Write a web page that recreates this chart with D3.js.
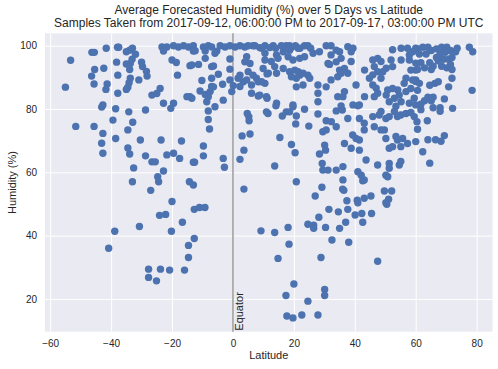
<!DOCTYPE html>
<html><head><meta charset="utf-8">
<script src="https://cdn.jsdelivr.net/npm/d3@7"></script>
<style>body{margin:0;background:#fff}svg{display:block}text{font-family:"Liberation Sans",Arial,sans-serif;fill:#262626}</style>
</head><body><svg id="c" width="498" height="369"></svg>
<script>
// [latitude, humidity %]
const southernCities = [
[-53.3,95.4],[-55,86.9],[-51.6,74.5],[-46.3,97.9],[-45.5,97.9],[-41.6,99.2],[-45.4,92.5],[-42.4,92.9],[-46.4,90.4],[-45.6,87.9],[-41.3,87.9],[-41.7,86.2],[-45.6,74.5],[-43.1,80.6],[-42.7,81.3],[-42.7,72.3],[-43.1,69.2],[-42.7,66],[-37.9,99.5],[-37.5,99.5],[-38.2,94.8],[-37.8,90.7],[-37.8,85],[-38.5,80.1],[-39.4,76.5],[-38.5,70.7],[-35,98.1],[-33.9,98.6],[-33,99.2],[-32,97.3],[-35,94.2],[-33.7,94.4],[-33.1,95.7],[-33.9,92.5],[-30,94.8],[-29.7,93.4],[-28.4,91.9],[-28.2,90.4],[-30.9,89.2],[-33.7,89.7],[-34.1,88.3],[-35,86.2],[-34.5,86.9],[-34.2,79.1],[-32.9,75.8],[-34.5,73.4],[-30.4,70.2],[-34.5,67.7],[-33.9,65.8],[-32.6,61.4],[-33,57],[-28.7,79.7],[-28.7,65.2],
[-26.6,63.3],[-25.5,63.3],[-23.6,70.2],[-22.8,60.4],[-24.7,58.6],[-24.4,57],[-21.7,65.5],[-19.5,66],[-20.4,80.2],[-17.5,64.4],[-16.9,69.9],[-13,63.2],
[-27,54.3],[-20,50.8],[-24.1,46.4],[-22.1,46.7],[-30.7,42.9],[-38.8,41.4],[-20.2,41.4],[-16.6,44.2],[-40.8,36],[-14.6,36.9],[-14.6,33.1],[-27.7,29.4],[-27.7,26.8],[-23.8,29.4],[-20.8,29.1],[-25.1,25.7],[-15.9,29.1],[-12.7,48.3],[-12.7,39.1],[-14.3,57],[-13,56],[-11,48.9],[-9.2,48.9],
[-23.3,99.6],[-21.7,99.6],[-19.5,100],[-17.9,99.6],[-16.2,100],[-14.6,99.6],[-13,100],[-22.8,98.3],[-13,98.3],[-12.4,98.4],
[-20,95.5],[-18.6,94.7],[-14.1,93.7],[-11.3,94.1],[-13.5,93.9],[-18.2,90.7],[-10.2,89],[-10.8,85.7],[-14.1,83.9],[-15.1,83.9],[-13.5,83.4],[-22.8,81.8],[-19.5,81.8],[-23.9,86.5],[-25,84.9],[-26.6,84.4]
];
const tropicalCities = [
[-9.7,99.6],[-8.1,100],[-7,99.6],[-4.2,100],[-2.6,99.6],[-1,100],[0.7,99.6],[2.3,100],[3.9,99.6],[-9.1,98.3],[-5.3,98.3],
[-9.1,96],[-5.9,97.6],[-1,95.8],[-1,92.6],[-7,93.4],[-6.4,93.6],[-4.8,91],[-7,89.7],[-1,89.2],[1.7,89.7],[2.3,90.7],[3.4,88.6],[4.5,89.2],[-3.4,87.8],[0.1,87.4],[2.3,87.1],[-9.1,84.6],[-7.5,85.5],[-7,87.1],[-6.4,87],[-8.1,83.9],[-8.6,82.3],[-0.4,85.5],[-3.2,82.8],[3.9,94.9],[4.5,96.5],[5,91.8],
[6.6,100],[8.8,99.4],[10.5,100],[12.1,99.4],[15.9,100],[17.5,100],[19.2,99.4],[21.4,99.2],[23.5,100],[5,100],[7.2,100],[9.4,99.2],[13.2,100],[14,99.2],[18.6,100],[20.5,100],[22,99.2],[24.6,100],
[10.5,97.6],[14.3,97.1],[16.5,98.1],[18.6,98.6],[18.1,96.5],[21.9,96],[23.5,96.5],[10.5,95.5],[14.8,96],[12.6,95],[5.6,94.4],[9.9,92.8],[13.7,93.4],[16.5,92.8],[11.6,91.3],[14.3,91.3],[6.6,90.7],[7.7,89.7],[8.3,88.6],[10.5,88.1],[6.1,87.6],[18.6,91.8],[20.3,92.3],[21.4,91.8],[21.9,90.7],[23,91.3],[24.6,90.7],[20.8,89.7],[19.2,90.2],[20.8,87],[23,87.6],[8.8,84.4],[11,83.9],[6.1,85],[14.3,81.8],[19.7,81.3],[11.2,91.1],[9.4,88.6],[19.7,95.5],[8.3,84.1],[11.2,83.4],
[-8.1,79.4],[-5.9,80.7],[-8.1,76.7],[-7.7,73.7],[-9.7,68.3],[-9.7,65.2],[-12.6,63.2],[-3.2,64.4],[-2.8,61.6],[2.3,64.1],[3.6,67],[3,71.5],[5.6,72.1],[4.7,78.6],[5.2,77.6],[5.3,76.3],[11.5,78.6],[11,79.1],[14.1,81],[16.2,77.8],[17.5,79.1],[18.6,79.1],[19.7,80.7],[20.8,77.8],[20.6,75.3],[23.5,79.9],[24.9,74.6],[15.4,71],[19.2,68.8],[20.4,66.2],[13.7,62],[20.8,57],
[3.6,54.7],[9.2,41.5],[13.7,41],[18.1,42.6],[18.4,37.3],[14.8,32.8],[24.6,43.6],[20,24.7],[17.4,21.1],[24.6,19.3],[17.7,14.6],[19.7,14],[22.6,14.9]
];
const northernCities = [
[25.5,99.2],[26.3,97.6],[28.4,98.1],[30.6,100],[32.2,100],[33.9,98.6],[35,98.1],[32.2,97.1],[35.5,96],[31.7,94.1],[31.2,94.4],[33.9,94.9],[35,92.3],[36.6,92.8],[25.2,89.7],[27.9,87.6],[30.6,87],[32.2,89.2],[34.4,90.2],[35.5,91.3],[27.9,85],[27.9,82.3],[34.4,83.9],
[27.9,78.4],[33.9,79.4],[35.9,79.7],[30.6,76.3],[32.3,76],[33.9,74.4],[29.5,72.8],[30.6,73.4],[30.1,68.6],[30.4,67],[28.4,65.8],[29.3,62.8],[29.5,60.7],[31.2,60.7],[33.9,60.7],
[27,52.5],[29.2,55.3],[28.2,45.8],[31.5,48.3],[34.6,47.5],[26.5,43.3],[26.5,42.3],[30.4,42.6],[35,42.3],[32.5,38.6],[28.9,33.1],[36,54.7],[30.1,23],[30.1,21.1],[27.9,14.9],
[42.6,57.3],[36.4,54.3],[37.4,51],[37.7,48.3],[40.8,51.2],[41,50.4],[43.1,51.8],[45.3,52.5],[49.7,54.1],[52.1,54.1],[50.2,50.4],[51.1,51.5],[50.5,49.9],[40.1,46.5],[42.3,47],[45.5,47],[37,44.2],[42.6,44.2],[38,37.9],[47.5,31.9],
[37.7,99.7],[39.4,99.2],[38.8,98.1],[38.8,95],[35.5,91.8],[37.7,91.3],[40.4,87.6],[36.6,85.5],[36.1,83.9],[43.2,83.9],[41.5,81.3],[39.4,81.3],[43.2,92.3],[45.9,95.5],[47.5,96],[48.6,95],[46.4,93.4],[45.9,90.8],[47.5,91.8],[49.2,91.8],[50.3,92.9],[52.4,93.4],[51.9,95.5],[55.2,95.5],[52.4,98.7],[55.2,99.2],[57.3,99.2],[59,98.1],[57.9,97.1],[60,99.2],[57.9,95.5],[60,94.5],[58.4,92.3],[60,92.3],[56.8,89.7],[59,89.2],[60,88.7],[56.2,88.1],[54.1,86],[52.4,86.5],[50.8,86],[50.3,84.4],[48.6,89.7],[44.8,89.7],[45.9,87.6],[47,86.6],[47.5,85],[46.4,83.9],[51.3,82.3],[53,83.4],[54.6,84.4],[56.8,85.5],[58.4,86.5],[59.5,83.4],[57.9,81.8],[60,81.3],[55.2,82.3],
[60.6,99],[62.3,99.5],[64,99.5],[65.1,98.5],[61.2,97.4],[63.4,97.4],[66.8,99],[68.5,99.5],[70.2,99.5],[71.4,98.5],[69.7,97.9],[68,97.4],[66.8,96.3],[69.1,95.7],[70.8,95.7],[71.9,96.3],[71.4,94.1],[70.2,93],[71.9,92.5],[68.5,93.5],[67.4,95.2],[73.6,99.2],[73.1,98.1],[77.6,99.5],[78.7,98.1],[61.7,94.6],[60.6,92.5],[64.6,94.6],[62.9,93],[65.1,92.5],[65.7,93.5],[60,89.2],[61.2,88.1],[60.6,85.9],[64.6,87.5],[66.3,88.1],[67.4,88.6],[64,83.7],[62.9,82.6],[61.7,81.5],[65.1,82.6],[65.7,83.7],[70.8,87],[71.9,89.7],[69.4,83.2],[78.5,85.9],
[35.5,81],[41,81],[53.5,80.9],[53,79.2],[45.9,77.6],[48,78.1],[48.6,79.2],[50.2,77],[51.3,77.6],[54,77.6],[55.1,78.1],[56.8,78.6],[58.4,78.9],[59.5,77.6],[37.7,77],[41.5,77],[43.1,75.5],[46.4,74.4],[48.6,73.4],[49.7,73.4],[43.1,73.4],[39.3,71.8],[41.5,70.2],[40.4,70.7],[36.6,69.1],[38.8,67.6],[41.5,67],[50.2,70.7],[51.3,67.6],[52.4,68.1],[53.5,71.3],[54,70.2],[55.1,68.1],[55.7,70.7],[57.3,69.1],[60,69.7],[43.7,63.9],[47.5,62.3],[51.3,62.8],[51.3,61.3],[54.6,62.3],[55.1,63.4],[36.1,61.8],[41,60.2],[42.1,59.1],[43.1,57.6],[36.1,57.6],[50.2,59.1],[50.8,58.6],
[61.7,79.8],[65.7,80.4],[68,80.4],[68,79.3],[72.1,80.2],[60.4,76],[63.8,76.3],[60.6,73.6],[64,70.3],[66.5,70.3],[68.3,69.8],[69.4,71.6],[62.3,66.5],[64.6,62.9]
];
const xTicks = [-60,-40,-20,0,20,40,60,80];
const yTicks = [20,40,60,80,100];
const titleLines = ["Average Forecasted Humidity (%) over 5 Days vs Latitude",
  "Samples Taken from 2017-09-12, 06:00:00 PM to 2017-09-17, 03:00:00 PM UTC"];

const svg = d3.select("#c");
const L=45,R=492.5,T=33.3,B=331.7;
const x = d3.scaleLinear().domain([-61.7,85.2]).range([L,R]);
const y = d3.scaleLinear().domain([9.64,103.92]).range([B,T]);

svg.append("rect").attr("x",L).attr("y",T).attr("width",R-L).attr("height",B-T).attr("fill","#EAEAF2");

const gx = svg.append("g").attr("transform",`translate(0,${B})`)
  .call(d3.axisBottom(x).tickValues(xTicks).tickSize(-(B-T)).tickPadding(8).tickFormat(d3.format("d")));
const gy = svg.append("g").attr("transform",`translate(${L},0)`)
  .call(d3.axisLeft(y).tickValues(yTicks).tickSize(-(R-L)).tickPadding(8).tickFormat(d3.format("d")));
[gx,gy].forEach(g=>{
  g.select(".domain").remove();
  g.selectAll(".tick line").attr("stroke","#fff").attr("stroke-width",1);
  g.selectAll(".tick text").attr("font-size",10).style("fill","#262626");
});
gx.selectAll(".tick text").text(d=>d<0?"\u2212"+Math.abs(d):d);

svg.append("line").attr("x1",x(0)).attr("x2",x(0)).attr("y1",T).attr("y2",B)
  .attr("stroke","#aaaaaa").attr("stroke-width",1.8);

const all = southernCities.concat(tropicalCities, northernCities);
svg.append("g").selectAll("circle").data(all).join("circle")
  .attr("cx",d=>x(d[0])).attr("cy",d=>y(d[1])).attr("r",3.7)
  .attr("fill","#4C72B0");

svg.append("text").attr("transform",`translate(${x(0)+10.5},${B-1}) rotate(-90)`)
  .attr("font-size",11).text("Equator");

svg.selectAll(".ttl").data(titleLines).join("text").attr("class","ttl")
  .attr("x",(L+R)/2).attr("y",(d,i)=>14+i*12.5).attr("text-anchor","middle")
  .attr("font-size",12).text(d=>d);
svg.append("text").attr("x",(L+R)/2).attr("y",359).attr("text-anchor","middle")
  .attr("font-size",11).text("Latitude");
svg.append("text").attr("transform",`translate(16,${(T+B)/2}) rotate(-90)`)
  .attr("text-anchor","middle").attr("font-size",11).text("Humidity (%)");
</script></body></html>
